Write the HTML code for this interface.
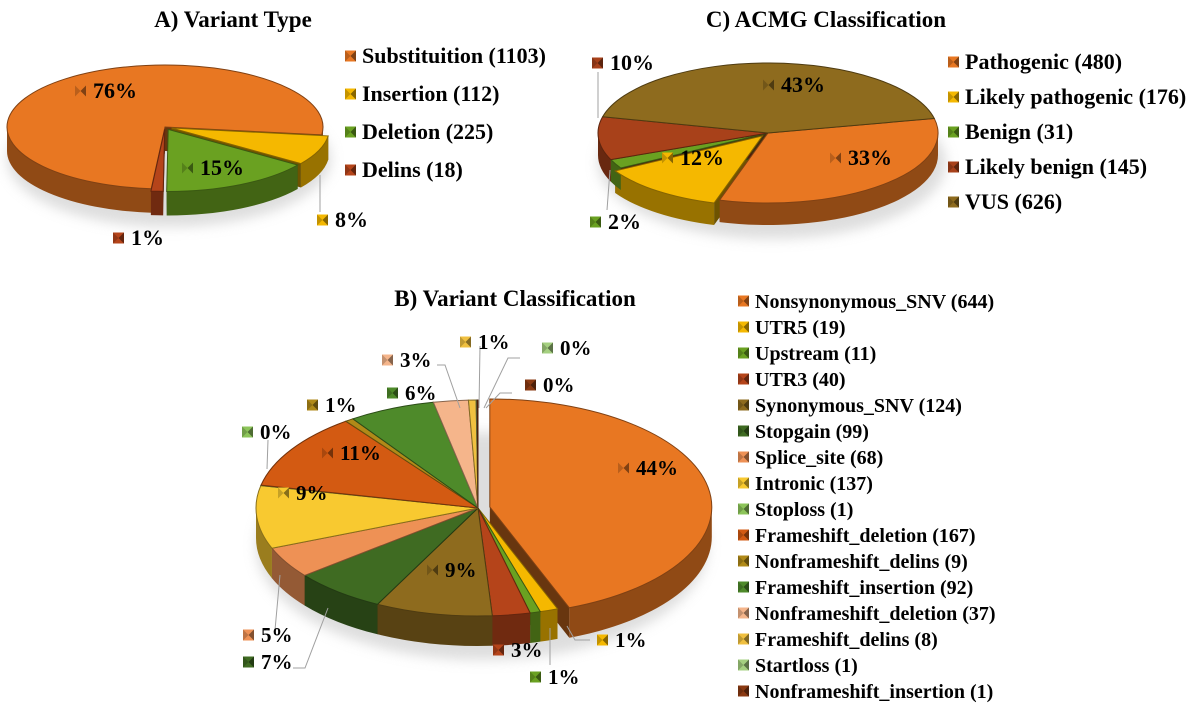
<!DOCTYPE html>
<html><head><meta charset="utf-8"><style>
html,body{margin:0;padding:0;background:#fff;}
svg{display:block;font-family:"Liberation Serif",serif;font-weight:bold;}
</style></head><body>
<svg id="c" width="1200" height="715" viewBox="0 0 1200 715">
<defs><filter id="blur" x="-20%" y="-20%" width="140%" height="140%"><feGaussianBlur stdDeviation="6"/></filter></defs>
<text x="233" y="27" font-size="23" text-anchor="middle">A) Variant Type</text>
<text x="826" y="27" font-size="23" text-anchor="middle">C) ACMG Classification</text>
<text x="515" y="306" font-size="23" text-anchor="middle">B) Variant Classification</text>
<g id="gA"></g>
<g id="gC"></g>
<g id="gB"></g>
</svg>
<script>
// ---- Chart A data ----
const aCategories = ["Substituition","Insertion","Deletion","Delins"];
const aValues = [1103,112,225,18];
const aColors = ["#E87722","#F5B800","#6AA121","#B5441A"];
// ---- Chart C data ----
const cCategories = ["Pathogenic","Likely pathogenic","Benign","Likely benign","VUS"];
const cValues = [480,176,31,145,626];
const cColors = ["#E87722","#F5B800","#6AA121","#A8411A","#8E6B1E"];
// ---- Chart B data ----
const bCategories = ["Nonsynonymous_SNV","UTR5","Upstream","UTR3","Synonymous_SNV","Stopgain","Splice_site","Intronic","Stoploss","Frameshift_deletion","Nonframeshift_delins","Frameshift_insertion","Nonframeshift_deletion","Frameshift_delins","Startloss","Nonframeshift_insertion"];
const bValues = [644,19,11,40,124,99,68,137,1,167,9,92,37,8,1,1];
const bColors = ["#E87722","#F5B800","#6AA121","#B5441A","#8E6B1E","#3F6B22","#EE9155","#F8C930","#8DC55A","#D35A12","#B08A18","#4E8A2A","#F5B58B","#F0C040","#A5D080","#8B3A12"];

const NS="http://www.w3.org/2000/svg";
function mk(tag,attrs,parent){const e=document.createElementNS(NS,tag);for(const k in attrs)e.setAttribute(k,attrs[k]);parent.appendChild(e);return e;}
function shade(hex,f){const n=parseInt(hex.slice(1),16);const r=Math.round(((n>>16)&255)*f),g=Math.round(((n>>8)&255)*f),b=Math.round((n&255)*f);return "rgb("+r+","+g+","+b+")";}
const R=Math.PI/180;

function pie3d(g,cfg,cats,vals,cols){
  const total=vals.reduce((s,v)=>s+v,0);
  const sh=mk("ellipse",{cx:cfg.cx+4,cy:cfg.cy+cfg.depth+8,rx:cfg.rx+4,ry:cfg.ry+6,fill:"#c8c8c8",opacity:0.6,filter:"url(#blur)"},g);
  
  
  const sl=[];let a=cfg.start;
  vals.forEach((v,i)=>{const sw=v/total*360;const mid=(a+sw/2)*R;const off=cfg.explode[i]||0;
    sl.push({a0:a,a1:a+sw,sw:sw,dx:off*Math.cos(mid),dy:off*Math.sin(mid)*cfg.ry/cfg.rx,i:i});a+=sw;});
  const pt=(s,t,d)=>[cfg.cx+s.dx+cfg.rx*Math.cos(t*R),cfg.cy+s.dy+cfg.ry*Math.sin(t*R)+(d||0)];
  const f=p=>p[0].toFixed(2)+" "+p[1].toFixed(2);
  sl.forEach(s=>{[s.a0,s.a1].forEach(t=>{const c=[cfg.cx+s.dx,cfg.cy+s.dy];const p=pt(s,t);
    const e=mk("path",{d:"M"+f(c)+"L"+f(p)+"L"+f([p[0],p[1]+cfg.depth])+"L"+f([c[0],c[1]+cfg.depth])+"Z",fill:shade(cols[s.i],0.45)},g);
    
    });});
  sl.forEach(s=>{for(const k of [-360,0,360]){const st=Math.max(s.a0,k),en=Math.min(s.a1,k+180);if(en-st<=0.01)continue;
    const p1=pt(s,st),p2=pt(s,en);
    const e=mk("path",{d:"M"+f(p1)+"A"+cfg.rx+" "+cfg.ry+" 0 0 1 "+f(p2)+"L"+f([p2[0],p2[1]+cfg.depth])+"A"+cfg.rx+" "+cfg.ry+" 0 0 0 "+f([p1[0],p1[1]+cfg.depth])+"Z",fill:shade(cols[s.i],0.62)},g);
    
    }});
  sl.forEach(s=>{const c=[cfg.cx+s.dx,cfg.cy+s.dy];const p1=pt(s,s.a0),p2=pt(s,s.a1);
    const e=mk("path",{d:"M"+f(c)+"L"+f(p1)+"A"+cfg.rx+" "+cfg.ry+" 0 "+(s.sw>180?1:0)+" 1 "+f(p2)+"Z",fill:cols[s.i],stroke:shade(cols[s.i],0.55),"stroke-width":1},g);
    
    });
  return total;
}
function marker(g,x,y,col,s){s=s||10;
  const m=mk("g",{},g);
  
  
  mk("rect",{x:x,y:y-s/2,width:s,height:s,fill:col},m);
  mk("polygon",{points:(x+s)+","+(y-s/2)+" "+(x+s)+","+(y+s/2)+" "+(x+s/2)+","+y,fill:shade(col,0.55)},m);
  mk("polygon",{points:x+","+(y-s/2)+" "+x+","+(y+s/2)+" "+(x+s/2)+","+y,fill:shade(col,0.8)},m);
}
function leader(g,pts){const e=mk("polyline",{points:pts.map(p=>p.join(",")).join(" "),fill:"none",stroke:"#a0a0a0","stroke-width":1},g);
  
  }
function pctLabel(g,x,y,col,val,total,fs,name){
  marker(g,x,y-7,col,11);
  const t=mk("text",{x:x+18,y:y,"font-size":fs},g);t.textContent=Math.round(val/total*100)+"%";
  
  }
function legend(g,x,y0,dy,cats,vals,cols,fs,name){
  cats.forEach((c,i)=>{const y=y0+i*dy;marker(g,x,y-7,cols[i],11);
    const t=mk("text",{x:x+17,y:y,"font-size":fs},g);t.textContent=c+" ("+vals[i]+")";
    
    });}

// Chart A
const gA=document.getElementById("gA");
const tA=pie3d(gA,{cx:165,cy:127,rx:158,ry:62,depth:24,start:95,explode:[0,7,7,6]},aCategories,aValues,aColors);
leader(gA,[[320,175],[320,212]]);
const posA=[[75,98],[317,227],[182,175],[113,245]];
aCategories.forEach((c,i)=>pctLabel(gA,posA[i][0],posA[i][1],aColors[i],aValues[i],tA,22,'chart-a-pct-label'));
legend(gA,345,63,38,aCategories,aValues,aColors,22,'chart-a-legend');

// Chart C
const gC=document.getElementById("gC");
const tC=pie3d(gC,{cx:768,cy:133,rx:170,ry:70,depth:22,start:-12,explode:[0,9,0,0,0]},cCategories,cValues,cColors);
leader(gC,[[598,72],[598,118]]);leader(gC,[[610,170],[607,210]]);
const posC=[[830,165],[662,165],[590,229],[592,70],[763,92]];
cCategories.forEach((c,i)=>pctLabel(gC,posC[i][0],posC[i][1],cColors[i],cValues[i],tC,22,'chart-c-pct-label'));
legend(gC,948,69,35,cCategories,cValues,cColors,22,'chart-c-legend');

// Chart B
const gB=document.getElementById("gB");
const tB=pie3d(gB,{cx:478,cy:508,rx:222,ry:108,depth:30,start:-90,explode:[12,0,0,0,0,0,0,0,0,0,0,0,0,0,0,0]},bCategories,bValues,bColors);
leader(gB,[[567,626],[575,640],[590,640]]);leader(gB,[[550,628],[550,665]]);
leader(gB,[[280,575],[275,630]]);leader(gB,[[328,608],[305,668],[293,668]]);
leader(gB,[[267,469],[268,440]]);leader(gB,[[460,408],[445,365],[437,365]]);
leader(gB,[[479,408],[480,346]]);leader(gB,[[484,408],[508,358],[520,358]]);leader(gB,[[486,408],[500,393],[512,393]]);
const posB=[[618,475],[597,647],[530,684],[493,657],[427,577],[243,669],[243,642],[278,500],[242,439],[322,460],[307,412],[387,400],[382,367],[460,349],[542,355],[525,392]];
bCategories.forEach((c,i)=>pctLabel(gB,posB[i][0],posB[i][1],bColors[i],bValues[i],tB,21,'chart-b-pct-label'));
legend(gB,738,308,26,bCategories,bValues,bColors,20,'chart-b-legend');
</script>
</body></html>
